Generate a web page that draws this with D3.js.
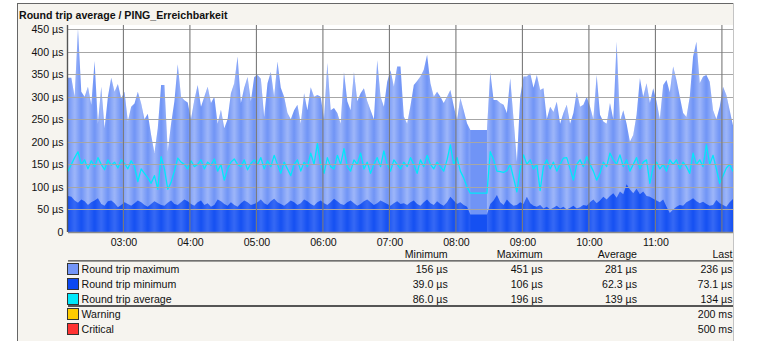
<!DOCTYPE html>
<html><head><meta charset="utf-8">
<script src="https://cdn.jsdelivr.net/npm/d3@7"></script>
<style>
html,body{margin:0;padding:0;background:#fff;}
svg{display:block;font-family:"Liberation Sans",Arial,sans-serif;}
</style></head>
<body><svg id="chart" width="766" height="341"></svg>
<script>
// ---------- DATA ----------
const title = "Round trip average / PING_Erreichbarkeit";
const startMinute = 130;   // 02:10
const stepMinutes = 3;
const gapIndexRange = [121, 126];   // samples without detail (no stripes)
const yTicks = [0, 50, 100, 150, 200, 250, 300, 350, 400, 450];
const xTickHours = [3, 4, 5, 6, 7, 8, 9, 10, 11, 12];
const xTickLabels = ["03:00","04:00","05:00","06:00","07:00","08:00","09:00","10:00","11:00",""];

const rtMax = [342,342,300,451,311,300,322,282,379,240,322,230,300,342,311,328,296,311,245,278,285,311,285,250,262,215,175,230,326,326,178,240,290,372,300,292,287,
250,293,326,278,300,322,286,300,240,271,230,250,308,330,389,286,320,344,290,344,348,340,255,330,355,300,
378,320,300,264,250,270,282,240,308,270,321,300,304,300,250,375,270,275,264,240,355,290,270,355,290,308,319,290,270,250,381,300,278,333,359,322,367,367,
256,240,280,326,335,345,360,393,330,300,311,300,286,300,315,280,248,297,270,241,
226,226,226,226,226,226,
355,293,293,286,282,264,341,250,156,
300,345,345,352,320,348,315,319,250,278,266,289,240,264,282,240,264,311,278,282,300,278,250,348,260,245,240,286,250,422,245,270,240,200,215,
260,341,300,330,286,319,290,250,326,337,310,367,337,300,264,255,300,389,422,330,345,348,333,270,250,278,322,304,270,236];

const rtMin = [80,78,70,65,72,68,60,66,70,75,62,58,68,70,64,55,60,66,62,58,64,70,66,60,56,62,68,64,60,58,65,70,62,60,66,72,68,
62,58,66,70,60,64,56,60,72,68,62,58,66,60,56,64,70,66,60,62,
66,72,64,60,68,74,66,62,58,64,70,66,60,64,72,68,62,58,66,70,64,60,66,74,68,62,60,66,70,64,58,62,68,72,66,60,64,70,66,62,58,64,68,62,
64,60,66,70,62,58,66,72,64,60,68,62,58,66,78,70,62,66,60,56,
39,39,39,39,39,39,
62,70,82,66,60,72,64,58,60,66,62,78,64,58,56,60,52,56,50,54,58,52,56,50,54,58,52,55,60,58,66,72,64,70,78,72,80,86,76,90,84,106,94,86,
96,84,90,80,78,74,70,66,72,56,42,50,56,60,58,66,70,75,68,64,67,62,58,60,71,64,60,56,66,73];

const rtAvg = [135,150,165,178,150,160,140,158,145,165,150,138,160,148,155,142,160,
152,140,158,145,112,140,130,120,108,125,95,167,140,95,110,135,164,155,150,140,
158,145,150,160,140,155,148,162,135,150,115,140,155,162,150,145,160,138,152,160,
150,165,140,158,145,170,150,130,155,140,125,150,160,135,155,145,175,150,196,150,130,165,145,140,170,150,185,145,135,160,150,175,140,155,130,150,165,145,180,150,135,160,150,140,
155,145,165,150,130,160,145,170,150,140,155,145,135,160,193,150,165,135,120,100,
86,86,86,86,86,86,
178,160,135,134,132,136,150,120,89,140,171,150,160,140,150,92,145,160,140,155,135,150,164,165,140,115,150,160,145,167,150,135,115,130,155,145,175,160,150,171,145,160,135,150,
165,140,155,160,108,145,155,140,150,135,160,150,160,140,155,145,130,175,150,160,145,193,150,170,140,108,125,142,150,134];

const legendNames = ["Round trip maximum","Round trip minimum","Round trip average","Warning","Critical"];
const legendColors = ["#7395f7","#0c48f2","#00e8fa","#ffcc00","#ff3333"];
const colHeaders = ["Minimum","Maximum","Average","Last"];
const colMin = ["156 µs","39.0 µs","86.0 µs","",""];
const colMax = ["451 µs","106 µs","196 µs","",""];
const colAvg = ["281 µs","62.3 µs","139 µs","",""];
const colLast = ["236 µs","73.1 µs","134 µs","200 ms","500 ms"];

// ---------- LAYOUT ----------
const svg = d3.select("#chart");
const P = {left:68, right:733, top:25, bottom:232};
const FS = "10.6px";

svg.append("rect").attr("x",17).attr("y",3).attr("width",716).attr("height",340).attr("fill","#f6f4ef");
svg.append("line").attr("x1",17.5).attr("x2",17.5).attr("y1",3).attr("y2",341).attr("stroke","#666");
svg.append("line").attr("x1",17).attr("x2",734).attr("y1",3.5).attr("y2",3.5).attr("stroke","#666");
svg.append("line").attr("x1",733.5).attr("x2",733.5).attr("y1",3).attr("y2",341).attr("stroke","#c4c4c4");

svg.append("text").attr("x",19).attr("y",18.5).attr("font-size","10.6px").attr("font-weight","bold")
  .attr("fill","#111").text(title);

svg.append("rect").attr("x",P.left).attr("y",P.top).attr("width",P.right-P.left).attr("height",P.bottom-P.top).attr("fill","#fff");

const times = rtMax.map((d,i)=>startMinute + i*stepMinutes);
const x = d3.scaleLinear().domain([times[0], times[times.length-1]]).range([P.left, P.right]);
const y = d3.scaleLinear().domain([0,450]).range([P.bottom, 29.1]);

const defs = svg.append("defs");
defs.append("clipPath").attr("id","plotclip").append("rect")
  .attr("x",P.left).attr("y",P.top).attr("width",P.right-P.left).attr("height",P.bottom-P.top);
const grad = defs.append("linearGradient").attr("id","sg").attr("x1",0).attr("x2",1).attr("y1",0).attr("y2",0);
grad.append("stop").attr("offset","0").attr("stop-color","#fff").attr("stop-opacity",0);
grad.append("stop").attr("offset","0.5").attr("stop-color","#fff").attr("stop-opacity",0.32);
grad.append("stop").attr("offset","1").attr("stop-color","#fff").attr("stop-opacity",0);
const pat = defs.append("pattern").attr("id","stripes").attr("patternUnits","userSpaceOnUse")
  .attr("x",P.left).attr("y",0).attr("width",13.3).attr("height",341);
pat.append("rect").attr("width",13.3).attr("height",341).attr("fill","url(#sg)");

const g = svg.append("g").attr("clip-path","url(#plotclip)");
const inGap = i => i > gapIndexRange[0] && i < gapIndexRange[1];
const areaGen = d3.area().x((d,i)=>x(times[i])).y0(y(0)).y1(d=>y(d)).curve(d3.curveLinear);
const stripeGen = d3.area().defined((d,i)=>!inGap(i)).x((d,i)=>x(times[i])).y0(y(0)).y1(d=>y(d));

g.append("path").attr("d",areaGen(rtMax)).attr("fill","#7094f6");
g.append("path").attr("d",stripeGen(rtMax)).attr("fill","url(#stripes)");
g.append("path").attr("d",areaGen(rtMin)).attr("fill","#1550f2");
g.append("path").attr("d",stripeGen(rtMin)).attr("fill","url(#stripes)").attr("opacity",0.45);
g.append("path").attr("d", d3.line().x((d,i)=>x(times[i])).y(d=>y(d))(rtAvg))
  .attr("fill","none").attr("stroke","#00e8fa").attr("stroke-width",1.3).attr("stroke-linejoin","round");

// grid on top
svg.append("g").selectAll("line").data(yTicks.filter(t=>t>0)).join("line")
  .attr("x1",P.left).attr("x2",P.right).attr("y1",d=>Math.round(y(d))+0.5).attr("y2",d=>Math.round(y(d))+0.5)
  .attr("stroke","#a6a6a6").attr("stroke-width",1.2);
svg.append("g").selectAll("line").data(xTickHours).join("line")
  .attr("x1",d=>x(d*60)).attr("x2",d=>x(d*60)).attr("y1",P.top).attr("y2",P.bottom)
  .attr("stroke","#7a7a7a").attr("stroke-width",1.1);

// axes
const yAxis = d3.axisLeft(y).tickValues(yTicks).tickSize(0).tickPadding(4)
  .tickFormat(d=> d===0 ? "0" : d+" µs");
const ya = svg.append("g").attr("transform",`translate(${P.left-0.5},0)`).call(yAxis);
ya.select(".domain").attr("d",`M0,${P.top}V${P.bottom}`).attr("stroke","#555").attr("stroke-width",1.4);
ya.selectAll("text").attr("font-size",FS).attr("fill","#111").attr("font-family","Liberation Sans, Arial, sans-serif");

const xAxis = d3.axisBottom(x).tickValues(xTickHours.map(h=>h*60)).tickSize(0).tickPadding(6)
  .tickFormat((d,i)=>xTickLabels[i]);
const xa = svg.append("g").attr("transform",`translate(0,${P.bottom})`).call(xAxis);
xa.select(".domain").attr("d",`M${P.left},0.5H${P.right}`).attr("stroke","#8a8a8a").attr("stroke-width",1.4);
xa.selectAll("text").attr("font-size",FS).attr("fill","#111").attr("font-family","Liberation Sans, Arial, sans-serif");

// legend table
const colX = [447.7, 542.7, 637, 732.5];
const lg = svg.append("g").attr("font-size",FS).attr("fill","#111");
colHeaders.forEach((h,i)=>lg.append("text").attr("x",colX[i]).attr("y",258).attr("text-anchor","end").text(h));
svg.append("line").attr("x1",68).attr("x2",733).attr("y1",260.8).attr("y2",260.8).attr("stroke","#444").attr("stroke-width",1.3);
svg.append("line").attr("x1",68).attr("x2",733).attr("y1",306).attr("y2",306).attr("stroke","#555").attr("stroke-width",1.8);
legendNames.forEach((name,i)=>{
  const by = 272.5 + i*15;
  lg.append("rect").attr("x",67.5).attr("y",by-9).attr("width",11).attr("height",11)
    .attr("fill",legendColors[i]).attr("stroke","#333").attr("stroke-width",1);
  lg.append("text").attr("x",81.5).attr("y",by).text(name);
  [colMin[i],colMax[i],colAvg[i],colLast[i]].forEach((v,j)=>{
    if(v) lg.append("text").attr("x",colX[j]).attr("y",by).attr("text-anchor","end").text(v);
  });
});
</script></body></html>
